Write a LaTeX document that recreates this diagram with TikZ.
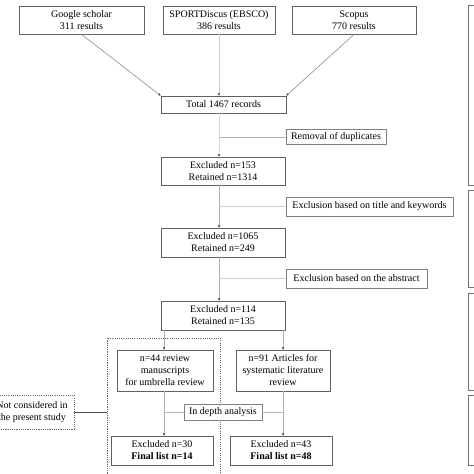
\documentclass[tikz,border=0pt]{standalone}
\usepackage{fontspec}
\setmainfont{Liberation Serif}
\usetikzlibrary{arrows.meta}

\tikzset{
  box/.style={draw=black!62, line width=0.8pt, fill=white, inner sep=0pt, align=center,
    font=\fontsize{10}{12}\selectfont},
  sidebox/.style={box, draw=black!50, line width=0.7pt},
  dotbox/.style={draw=black!60, line width=0.7pt, dash pattern=on 1.1pt off 1.1pt},
  link/.style={draw=black!30, line width=0.6pt},
  arr/.style={link, -{Stealth[length=2.6pt,width=2.4pt,color=black!80]}}
}

\begin{document}
\begin{tikzpicture}[x=1pt,y=-1pt]
				%%%%% frame %%%%%
				\useasboundingbox (0,0) rectangle (474,474);
				\clip (0,0) rectangle (474,474);
				\def\axis{219}
				\def\lft{164}
				\def\rgt{283}

				% studies not kept
				\node[dotbox, minimum width=113pt, minimum height=150pt] (umbrzone) at (163.5,413) {};

				% databases
				\node[box, minimum width=125pt, minimum height=28pt] (google) at (81.5,20) {Google scholar\\311 results};
				\node[box, minimum width=112pt, minimum height=28pt] (sport) at (\axis,20) {SPORTDiscus (EBSCO)\\386 results};
				\node[box, minimum width=124pt, minimum height=28pt] (scopus) at (354,20) {Scopus\\770 results};

				\node[box, minimum width=125pt, minimum height=17pt] (total) at (223.5,104.5) {Total 1467 records};
				\node[sidebox, minimum width=100pt, minimum height=15pt] (dupl) at (336,137) {Removal of duplicates};

				\node[box, minimum width=124pt, minimum height=28pt] (exa) at (223,171) {Excluded n=153\\Retained n=1314};
				\node[sidebox, minimum width=167pt, minimum height=19pt] (title) at (369.5,206.5) {Exclusion based on title and keywords};

				\node[box, minimum width=124pt, minimum height=29pt] (exb) at (223,242.5) {Excluded n=1065\\Retained n=249};
				\node[sidebox, minimum width=141pt, minimum height=19pt] (abstr) at (356.5,278.5) {Exclusion based on the abstract};

				\node[box, minimum width=124pt, minimum height=29pt] (exc) at (223,315.5) {Excluded n=114\\Retained n=135};

				% two branches
				\node[box, minimum width=96pt, minimum height=41pt] (umbr) at (165,370.5) {n=44 review\\manuscripts\\for umbrella review};
				\node[box, minimum width=94pt, minimum height=41pt] (syst) at (283,370.5) {n=91 Articles for\\systematic literature\\review};
				\node[sidebox, minimum width=78pt, minimum height=16pt] (depth) at (223,412) {In depth analysis};
				\node[box, minimum width=102pt, minimum height=29pt] (exd) at (162,450.5) {Excluded n=30\\\textbf{Final list n=14}};
				\node[box, minimum width=102pt, minimum height=29pt] (exe) at (281,450.5) {Excluded n=43\\\textbf{Final list n=48}};

				\node[dotbox, fill=white, inner sep=0pt, align=center, font=\fontsize{10}{12}\selectfont,
				  minimum width=84pt, minimum height=34pt] (nocon) at (32,412) {Not considered in\\the present study};

				% connectors
				\draw[arr, draw=black!45] (google.south) -- (total.north west);
				\draw[arr, draw=black!20] (sport.south) -- (sport.south |- total.north);
				\draw[arr, draw=black!45] (scopus.south) -- (total.north east);

				\draw[arr, draw=black!15] (total.south -| sport.south) -- (exa.north -| sport.south);
				\draw[link] (dupl.west -| sport.south) -- (dupl.west);
				\draw[arr] (exa.south -| sport.south) -- (exb.north -| sport.south);
				\draw[link, draw=black!18] (title.west -| sport.south) -- (title.west);
				\draw[arr] (exb.south -| sport.south) -- (exc.north -| sport.south);
				\draw[link, draw=black!18] (abstr.west -| sport.south) -- (abstr.west);

				\draw[arr] (exc.south -| \lft,0) -- (umbr.north -| \lft,0);
				\draw[arr] (exc.south -| syst.north) -- (syst.north);
				\draw[arr] (umbr.south -| \lft,0) -- (exd.north -| \lft,0);
				\draw[arr] (syst.south) -- (exe.north -| syst.south);
				\draw[link] (depth.west) -- (depth.west -| \lft,0);
				\draw[link] (depth.east) -- (depth.east -| syst.south);
				\draw[draw=black!70, line width=0.7pt] (nocon.east) -- (nocon.east -| umbrzone.west);

				% cut off boxes at the right edge
				\draw[draw=black!55, line width=0.7pt] (468,5) rectangle (490,185);
				\draw[draw=black!55, line width=0.7pt] (468,190) rectangle (490,287);
				\draw[draw=black!55, line width=0.7pt] (468,293) rectangle (490,390);
				\draw[draw=black!55, line width=0.7pt] (468,395) rectangle (490,465);
				%%%%% end %%%%%
\end{tikzpicture}
\end{document}
